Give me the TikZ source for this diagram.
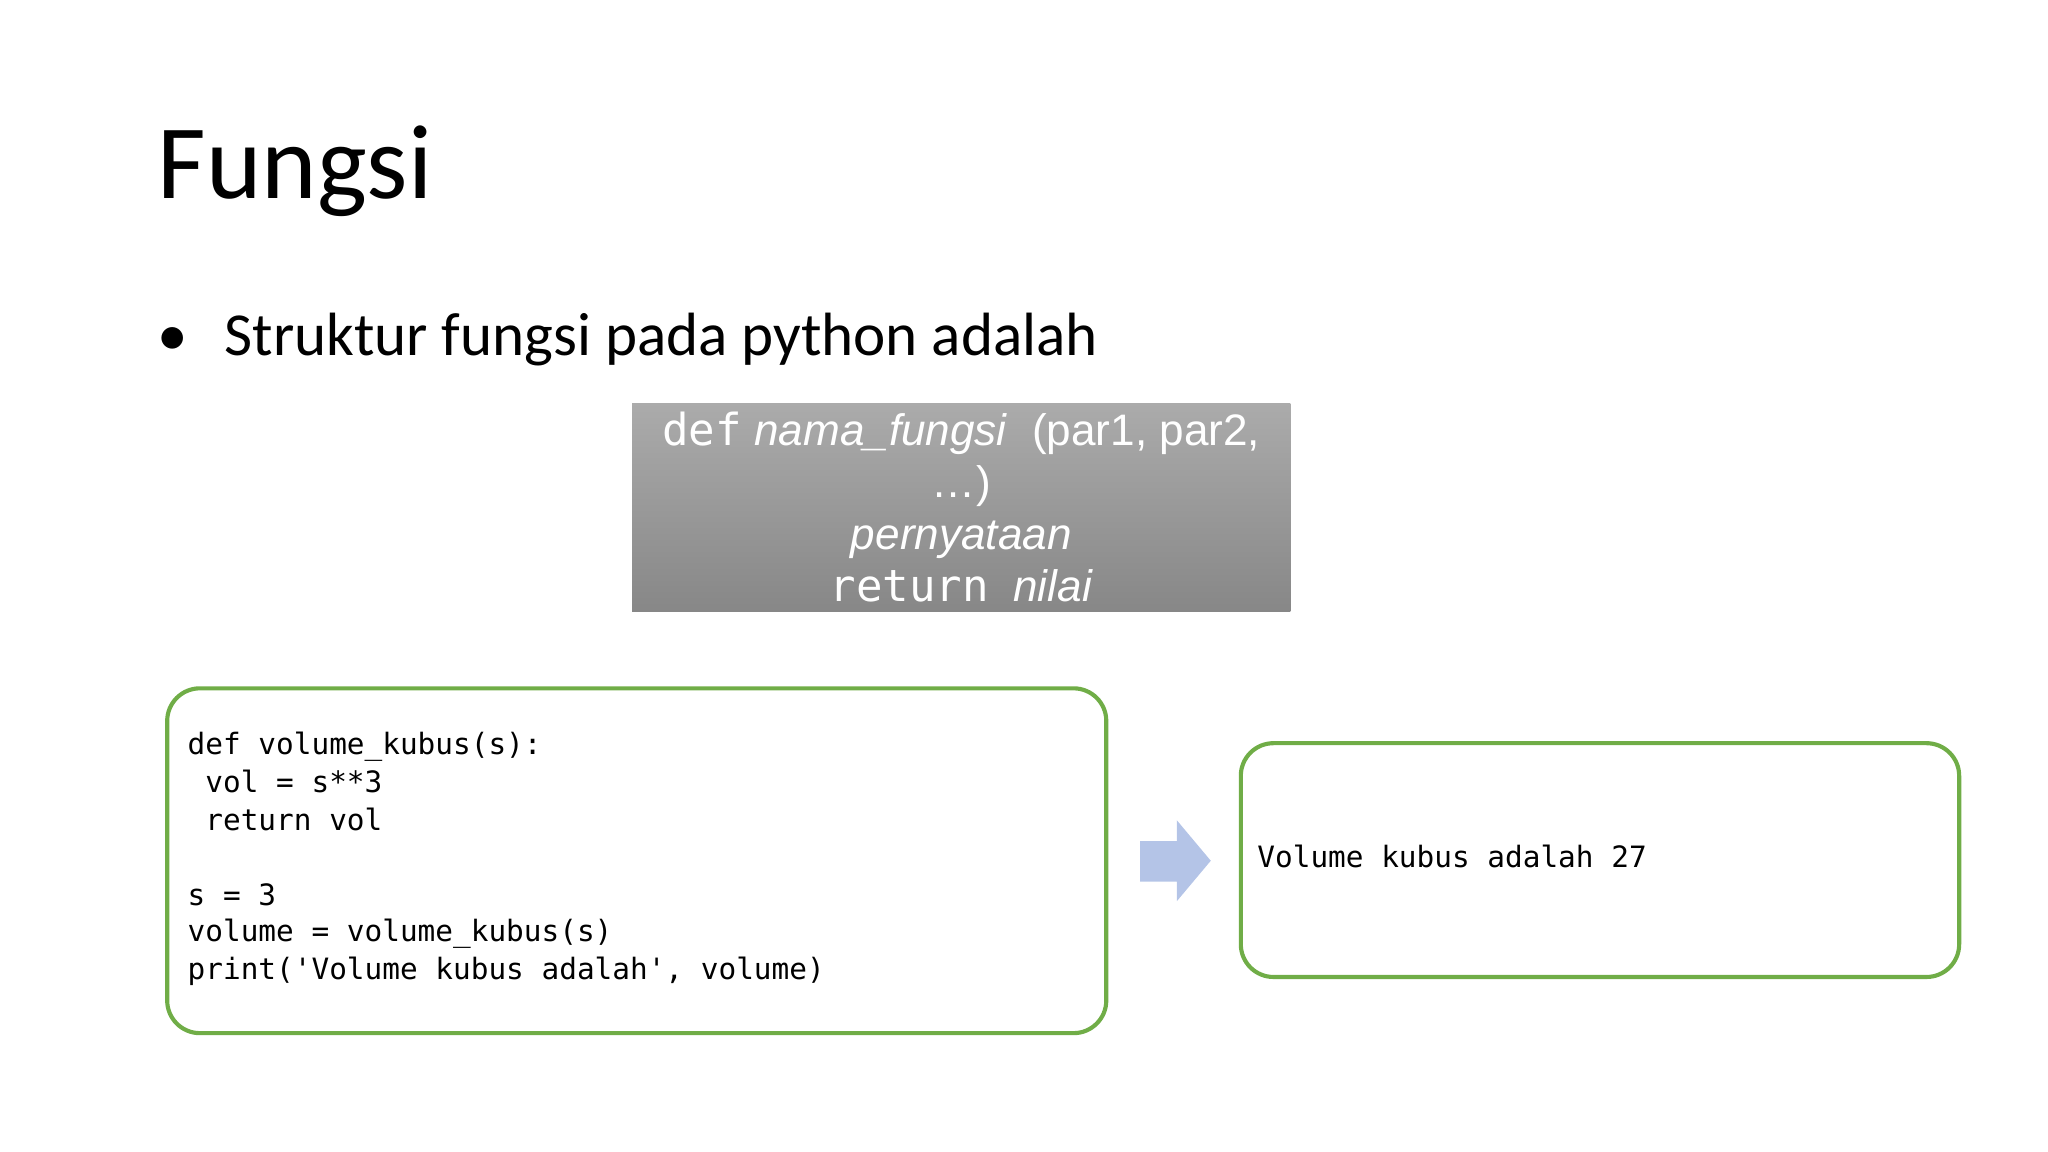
\documentclass[tikz,border=0pt]{standalone}
\usepackage{fontspec}
\setmainfont{Carlito}
\newfontfamily\arialf{Liberation Sans}
\newfontfamily\monof{DejaVu Sans Mono}
\begin{document}
\begin{tikzpicture}[x=0.01cm,y=-0.01cm,
  codeline/.style={anchor=base west,inner sep=0,font=\monof\fontsize{6.4pt}{7pt}\selectfont},
  greenbox/.style={draw=green!45!black!70!lime,line width=0.9pt,rounded corners=0.25cm}]
\useasboundingbox (0,0) rectangle (1568,882);
\definecolor{gr}{HTML}{70AD47}
\node[anchor=base west,inner sep=0,font=\fontsize{23pt}{27pt}\selectfont] (title) at (120,152) {Fungsi};
\node[anchor=base west,inner sep=0,font=\fontsize{13.3pt}{16pt}\selectfont] (bul) at (120,272) {•\hspace{0.6em}Struktur fungsi pada python adalah};
\shade[top color=black!33,bottom color=black!47] (484,309) rectangle (988,468);
\node[text=white,align=center,font=\arialf\fontsize{9.6pt}{11.3pt}\selectfont] (sig) at (736,388)
 {{\monof def} \textit{nama\_fungsi}\ \ (par1, par2,\\ …)\\ \textit{pernyataan}\\ {\monof return}\ \ \textit{nilai}};
\draw[draw=gr,line width=0.9pt,rounded corners=0.25cm] (128,527) rectangle (847,791);
\node[codeline] (c1) at (143,578) {def volume\_kubus(s):};
\node[codeline] (c2) at (143,607) {\ vol = s**3};
\node[codeline] (c3) at (143,636) {\ return vol};
\node[codeline] (c4) at (143,693) {s = 3};
\node[codeline] (c5) at (143,721) {volume = volume\_kubus(s)};
\node[codeline] (c6) at (143,750) {print('Volume kubus adalah', volume)};
\fill[color={rgb,255:red,180;green,196;blue,231}] (873,644)--(901,644)--(901,628)--(927,659)--(901,690)--(901,675)--(873,675)--cycle;
\draw[draw=gr,line width=0.9pt,rounded corners=0.25cm] (950,569) rectangle (1500,748);
\node[codeline] (out) at (962,664) {Volume kubus adalah 27};
\end{tikzpicture}
\end{document}
